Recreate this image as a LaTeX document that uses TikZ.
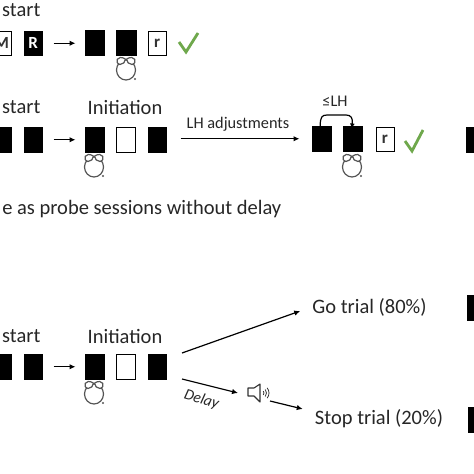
\documentclass[tikz,border=0pt]{standalone}
\usepackage{fontspec}
\setmainfont{Carlito}
\usetikzlibrary{arrows.meta}
\definecolor{tickgreen}{HTML}{6FA84C}
\definecolor{mousegray}{HTML}{555555}
\tikzset{
  x=1pt,y=-1pt,
  cell/.style={draw=black,line width=1pt,minimum width=18.5pt,minimum height=24.5pt,inner sep=0pt,anchor=north west,outer sep=0pt},
  filled/.style={cell,fill=black},
  blank/.style={cell,fill=white},
  cue/.style={cell,fill=white,text=black!80,font=\fontsize{17}{17}\selectfont\bfseries},
  cuedark/.style={cell,fill=black,text=white,font=\fontsize{17}{17}\selectfont\bfseries},
  lbl/.style={font=\fontsize{20.5}{21}\selectfont,text=black!85,inner sep=0pt},
  small/.style={font=\fontsize{16.3}{17}\selectfont,text=black!85,inner sep=0pt},
  conn/.style={line width=1.2pt,-{Latex[length=6pt,width=5.5pt]}},
  tick/.style={draw=tickgreen,line width=2.8pt,line join=miter},
  mouse/.pic={
    \draw[mousegray,line width=1.2pt,fill=white] (0,16) ellipse (9.5 and 10);
    \draw[mousegray,line width=1.2pt,fill=white] (-0.5,5) .. controls (-9,0) and (-12,9) .. (-6,10.5) .. controls (-3,10.5) and (-0.5,8) .. (-0.5,5);
    \draw[mousegray,line width=1.2pt,fill=white] (0.5,5) .. controls (9,0) and (12,9) .. (6,10.5) .. controls (3,10.5) and (0.5,8) .. (0.5,5);
    \fill[mousegray] (9,25) circle (1.2);
  }
}
\begin{document}
\begin{tikzpicture}
\path[use as bounding box] (0,0) rectangle (474,474);
\clip (0,0) rectangle (474,474);
% row 1
\node[lbl,anchor=west] (s1) at (2,10) {start};
\node[cue,minimum width=19pt,anchor=north east] (m1) at (11,31) {M};
\node[cuedark] (r1) at (24,31) {R};
\node[filled] (a1) at (85.5,30.5) {};
\node[filled,minimum width=20pt] (b1) at (116,30.5) {};
\node[cue] (c1) at (148,31) {r};
\draw[conn] (r1.east) ++(11,0) coordinate (p1) -- ([xshift=-10pt]a1.west |- p1);
\pic at (126,54) {mouse};
\node[filled,minimum width=20pt] (b1b) at (116,30.5) {};
\draw[tick] (179,42) -- (186,52) -- (198,33);
% row 2
\node[lbl,anchor=west] (s2) at (2,107) {start};
\node[lbl] (i2) at (125,107) {Initiation};
\node[filled,anchor=north east] (l2) at (11,127.5) {};
\node[filled] (m2) at (24,127.5) {};
\node[filled] (a2) at (85.5,127.5) {};
\node[blank] (b2) at (116.5,127.5) {};
\node[filled] (c2) at (148,127.5) {};
\draw[conn] ([xshift=11pt]m2.east) -- ([xshift=-10pt]a2.west);
\node[small] (lh) at (238,124) {LH adjustments};
\node[filled] (d2) at (312.5,126.5) {};
\node[filled] (e2) at (343.5,126.5) {};
\node[cue,minimum width=18pt,minimum height=24pt] (r2) at (376,127) {r};
\node[filled,minimum width=10pt,anchor=north west] (f2) at (466,127.5) {};
\draw[conn] ([xshift=14pt]c2.east |- d2.west) -- ([xshift=-13pt]d2.west);
\node[small] (le) at (335,101) {≤LH};
\draw[line width=1.2pt,-{Latex[length=5pt,width=5pt]}] ([xshift=-1.5pt]d2.north) .. controls (320,117) and (322,115) .. (327,115) -- (346,115) .. controls (351,115) and (353,118) .. ([xshift=-1pt,yshift=-2pt]e2.north);
\pic at (94,151) {mouse};
\pic at (352,151) {mouse};
\node[filled] at (85.5,127.5) {};
\node[filled] at (343.5,126.5) {};
\draw[tick] (405,141) -- (412,151) -- (423,130);
% sentence
\node[lbl,anchor=east] (note) at (281.5,209) {e as probe sessions without delay};
% row 3
\node[lbl,anchor=west] (s3) at (2,336) {start};
\node[lbl] (i3) at (125,336) {Initiation};
\node[filled,anchor=north east] (l3) at (11,354.5) {};
\node[filled] (m3) at (24,354.5) {};
\node[filled] (a3) at (85.5,354.5) {};
\node[blank] (b3) at (116.5,354.5) {};
\node[filled] (c3) at (148,354.5) {};
\draw[conn] ([xshift=11pt]m3.east) -- ([xshift=-10pt]a3.west);
\pic at (94,378) {mouse};
\node[filled] at (85.5,354.5) {};
\node[lbl] (go) at (369.5,307) {Go trial (80\%)};
\node[lbl] (stop) at (379,419) {Stop trial (20\%)};
\node[filled,minimum width=10pt] (gobox) at (467.5,295.5) {};
\node[filled,minimum width=10pt] (stopbox) at (468,407.5) {};
\coordinate (gs) at (182,353);
\coordinate (ds) at (182,379);
\coordinate (de) at (238,393);
\coordinate (ss) at (270,401);
\draw[conn] (gs) -- ([shift={(-12,4)}]go.west);
\draw[conn] (ds) -- (de);
\draw[conn] (ss) -- ([shift={(-12,-10)}]stop.west);
\node[small,rotate=-17,font=\fontsize{15.5}{16}\selectfont\itshape] (delay) at (201.5,399.5) {Delay};
% speaker
\draw[black!80,line width=1.1pt,fill=white,line join=round] (248,388) -- (254,388) -- (260,384) -- (260,402) -- (254,396) -- (248,396) -- cycle;
\foreach \r in {3,5.5,8}{\draw[black!80,line width=.8pt] ({261+\r*cos(40)},{393+\r*sin(40)}) arc[start angle=40,end angle=-40,radius=\r];}
\end{tikzpicture}
\end{document}
